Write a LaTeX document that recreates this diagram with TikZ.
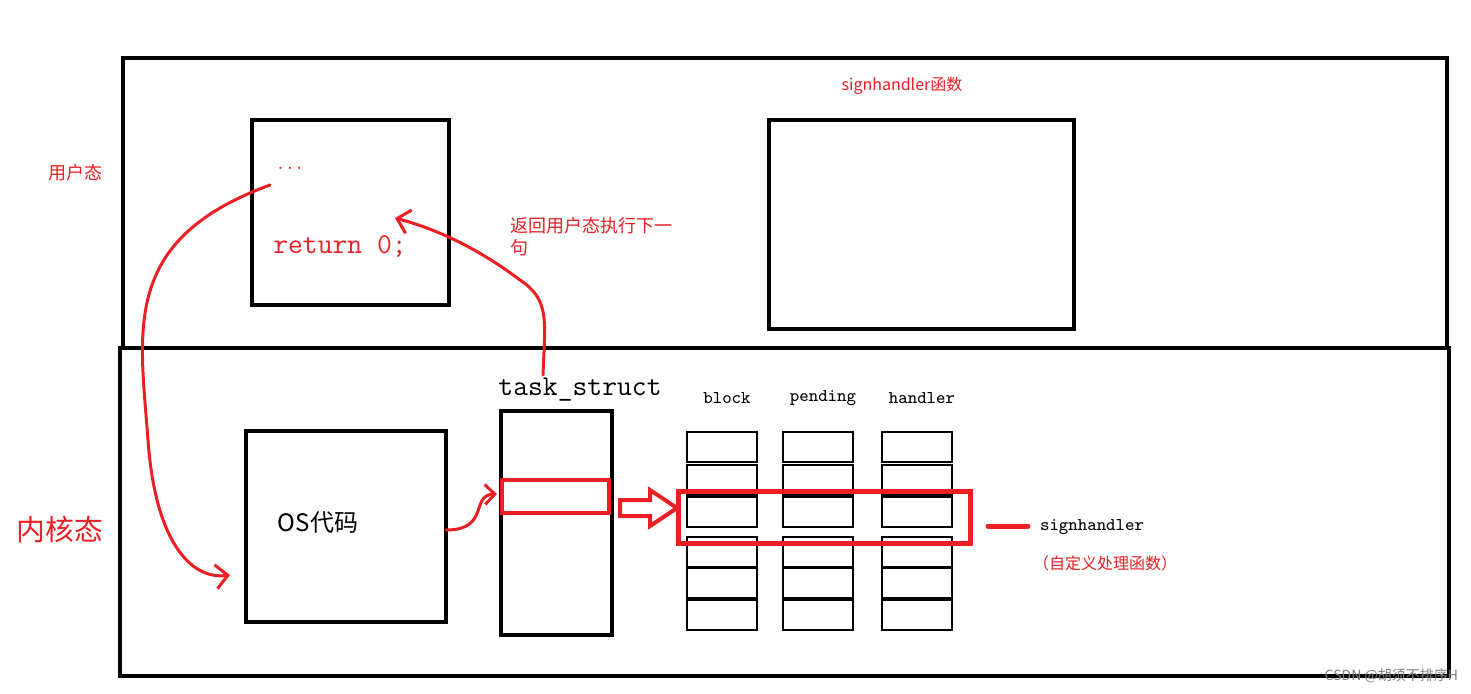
\documentclass[tikz,border=0pt]{standalone}
\usepackage{fontspec}
\newfontfamily\cjk{Noto Sans CJK SC}
\usetikzlibrary{arrows.meta}
\definecolor{penred}{rgb}{0.92,0.12,0.14}

\tikzset{
  frame/.style={line width=2pt,black},
  box/.style={line width=2pt,black},
  cell/.style={line width=1.4pt,black},
  redtxt/.style={penred,font=\cjk\small},
  blktxt/.style={black,font=\ttfamily\small},
  redpen/.style={line width=1.5pt,penred,line cap=round},
}

\begin{document}
\begin{tikzpicture}[x=0.5pt,y=-0.5pt]
\useasboundingbox (0,0) rectangle (1471,693);
\fill[white] (0,0) rectangle (1471,693);

% two levels
\draw [frame] (123,58) rectangle (1447,348);
\draw [frame] (120,348) rectangle (1449,676);
\node [redtxt] (user) at (75,173) {用户态};
\node [redtxt,font=\cjk\Large] (kern) at (60,530) {内核态};

% user code
\draw [box] (252,120) rectangle (449,305);
\node [redtxt,font=\ttfamily\small] (dots) at (290,168) {...};
\node [redtxt,font=\ttfamily\Large] (ret) at (340,247) {return 0;};
\coordinate (retend) at (395,218);

% handler in user space
\node [redtxt,font=\cjk\footnotesize] (hfun) at (902,86) {signhandler函数};
\draw [box] (769,120) rectangle (1074,329);

\node [redtxt,anchor=west,align=left] (back) at (503,237)
  {返回用户态执行下一\\句};

% kernel side
\draw [box] (246,431) rectangle (446,622);
\node [black,font=\cjk\large] (os) at (318,523) {OS代码};

\node [black,font=\ttfamily\Large] (task) at (580,390) {task\_struct};
\draw [box] (501,411) rectangle (612,635);
\draw [redpen,line width=2pt] (502,480) rectangle (609,513);

% signal tables
\foreach \x/\name in {687/block,783/pending,882/handler}{
  \node [blktxt] at (\x+40,398) {\name};
  \foreach \y in {432,465,497,537,568,600}
    \draw [cell] (\x,\y) rectangle (\x+70,\y+30);
}
\draw [redpen,line width=2.5pt] (678,491) rectangle (970,543);

% hollow arrow
\draw [redpen,line width=2pt,line cap=butt]
  (620,500) -- (650,500) -- (650,490) -- (677,508) -- (650,526)
  -- (650,516) -- (620,516) -- cycle;

\draw [redpen,line width=2.5pt] (988,526) -- (1028,526);
\node [blktxt,anchor=west] (sh) at (1033,527) {signhandler};
\node [redtxt,font=\cjk\footnotesize] (cust) at (1105,563) {（自定义处理函数）};

% pen strokes
\draw [redpen,-{Straight Barb[length=6pt]}] (270,185)
  .. controls (120,240) and (140,330) .. (148,440)
  .. controls (155,540) and (190,580) .. (230,575);
\draw [redpen,-{Straight Barb[length=5pt]}] (446,530)
  .. controls (490,530) and (470,495) .. (497,494);
\draw [redpen,-{Straight Barb[length=6pt]}] (543,375)
  .. controls (545,320) and (550,300) .. (520,280)
  .. controls (480,250) and (440,230) .. (retend);

\node [gray,font=\cjk\scriptsize,anchor=east] (mark) at (1465,676) {CSDN @胡须不排序H};
\end{tikzpicture}
\end{document}
